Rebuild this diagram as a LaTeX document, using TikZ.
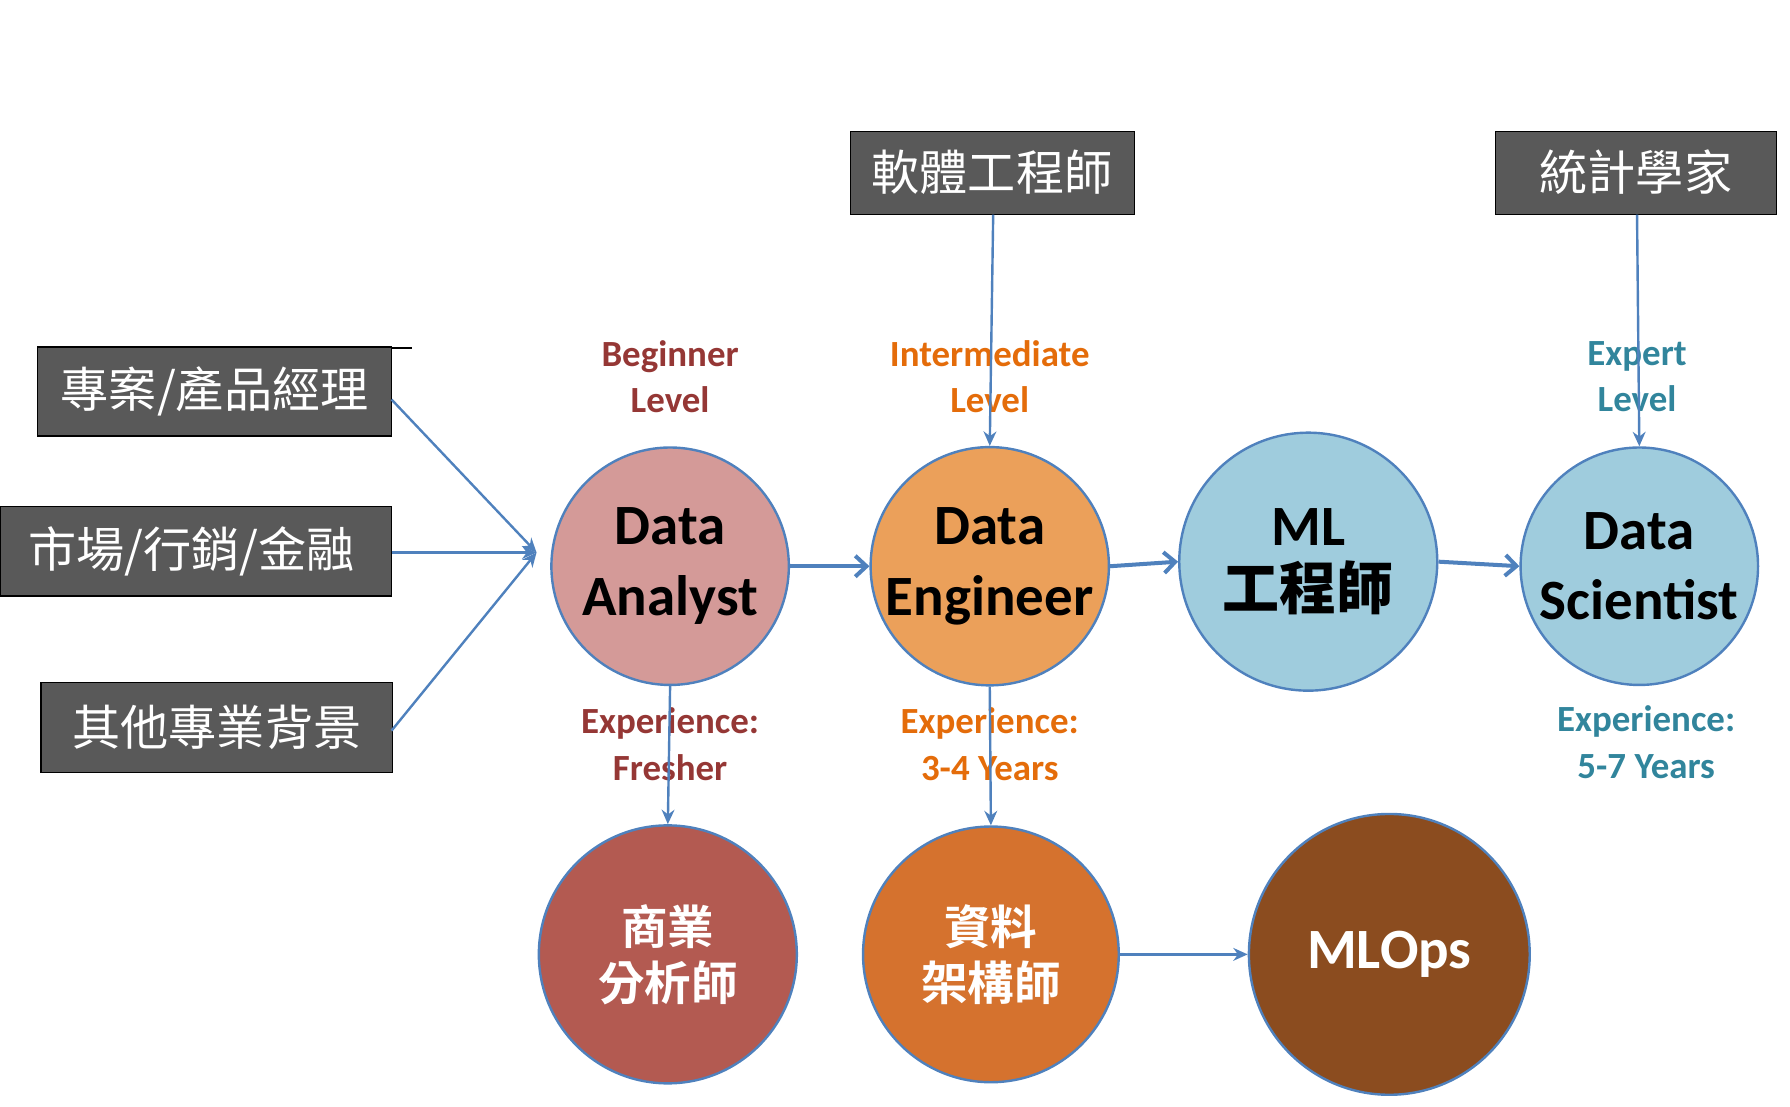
\documentclass[tikz,border=0pt]{standalone}
\usepackage{fontspec}
\setmainfont{Carlito}
\newfontfamily\cjk{Noto Sans CJK TC}
\newfontfamily\cjkb{Noto Sans CJK TC Bold}
\definecolor{bl}{HTML}{4F81BD}
\definecolor{gbox}{HTML}{595959}
\definecolor{cDA}{HTML}{D49A98}
\definecolor{cDE}{HTML}{EBA05A}
\definecolor{cML}{HTML}{9FCCDD}
\definecolor{cBA}{HTML}{B35A51}
\definecolor{cAR}{HTML}{D5722E}
\definecolor{cMO}{HTML}{8B4C1F}
\definecolor{tR}{HTML}{953735}
\definecolor{tO}{HTML}{E46C0A}
\definecolor{tT}{HTML}{31859C}
\usetikzlibrary{arrows.meta}
\begin{document}
\begin{tikzpicture}[x=0.05cm,y=-0.05cm,
 gb/.style={draw=black,line width=1.5pt,fill=gbox,text=white,font=\cjk\fontsize{60}{66}\selectfont,inner sep=0,anchor=north west},
 circ/.style={circle,draw=bl,line width=3pt,inner sep=0,align=center,font=\bfseries\fontsize{71}{88}\selectfont},
 lab/.style={align=center,font=\bfseries\fontsize{46}{58}\selectfont},
 ar/.style={draw=bl,line width=3pt,-{Stealth[length=18pt,width=16pt]}},
 arb/.style={draw=bl,line width=5pt,-{Straight Barb[length=14pt,width=26pt]}}]
\useasboundingbox (0,0) rectangle (1568,969);
\node[gb,minimum width=310\pgflinewidth] (b1) at (33,304) {};
\path[draw=black,line width=1.5pt,fill=gbox] (33,304) rectangle (343,382) coordinate (b1e);
\path[draw=black,line width=1.5pt,fill=gbox] (0,444) rectangle (343,522);
\path[draw=black,line width=1.5pt,fill=gbox] (36,598) rectangle (344,677);
\path[draw=black,line width=1.5pt,fill=gbox] (745,115) rectangle (994,188);
\path[draw=black,line width=1.5pt,fill=gbox] (1310,115) rectangle (1556,188);
\tikzset{bt/.style={text=white,font=\cjk\fontsize{60}{66}\selectfont}}
\node[bt] (t1) at (188,343) {專案/產品經理};
\node[bt] (t2) at (168,483) {市場/行銷/金融};
\node[bt] (t3) at (190,637) {其他專業背景};
\node[bt] (t4) at (869,151) {軟體工程師};
\node[bt] (t5) at (1433,151) {統計學家};
\coordinate (b1r) at (343,350);
\coordinate (b2r) at (343,484);
\coordinate (b3r) at (343,640);
\coordinate (j) at (470,484);
\coordinate (t4b) at (870,188);
\coordinate (t5b) at (1434,188);

\node[lab,text=tR] (l1) at (587,330) {Beginner\\Level};
\node[lab,text=tO] (l2) at (867,330) {Intermediate\\Level};
\node[lab,text=tT] (l3) at (1434,330) {Expert\\Level};
\node[lab,text=tR] (e1) at (587,652) {Experience:\\Fresher};
\node[lab,text=tO] (e2) at (867,652) {Experience:\\3-4 Years};
\node[lab,text=tT] (e3) at (1442,650) {Experience:\\5-7 Years};

\node[circ,fill=cDA,minimum size=206\pgflinewidth/3] (da) at (587,496) {};
\node[circ,fill=cDA,minimum size=10.4cm] (da) at (587,496) {Data\\Analyst};
\node[circ,fill=cDE,minimum size=10.4cm] (de) at (867,496) {Data\\Engineer};
\node[circ,fill=cML,minimum size=11.3cm,font=\bfseries\fontsize{71}{80}\selectfont] (ml) at (1146,492) {ML\\{\cjkb 工程師}};
\node[circ,fill=cML,minimum size=10.4cm] (ds) at (1436,496) {Data\\Scientist};
\node[circ,fill=cBA,minimum size=11.3cm,text=white,font=\cjkb\fontsize{58}{70}\selectfont] (ba) at (585,836) {商業\\分析師};
\node[circ,fill=cAR,minimum size=11.2cm,text=white,font=\cjkb\fontsize{58}{70}\selectfont] (ar) at (868,836) {資料\\架構師};
\node[circ,fill=cMO,minimum size=12.3cm,text=white] (mo) at (1217,836) {MLOps};

\draw[ar] (b1r) -- (j);
\draw[ar] (b2r) -- (j);
\draw[ar] (b3r) -- (j);
\draw[arb] (da.east) -- (de.west);
\draw[arb] (de.east) -- (ml.west);
\draw[arb] (ml.east) -- (ds.west);
\draw[ar] (t4b) -- (de.north);
\draw[ar] (t5b) -- (ds.north);
\draw[ar] (da.south) -- (ba.north);
\draw[ar] (de.south) -- (ar.north);
\draw[ar] (ar.east) -- (mo.west);
\end{tikzpicture}
\end{document}
